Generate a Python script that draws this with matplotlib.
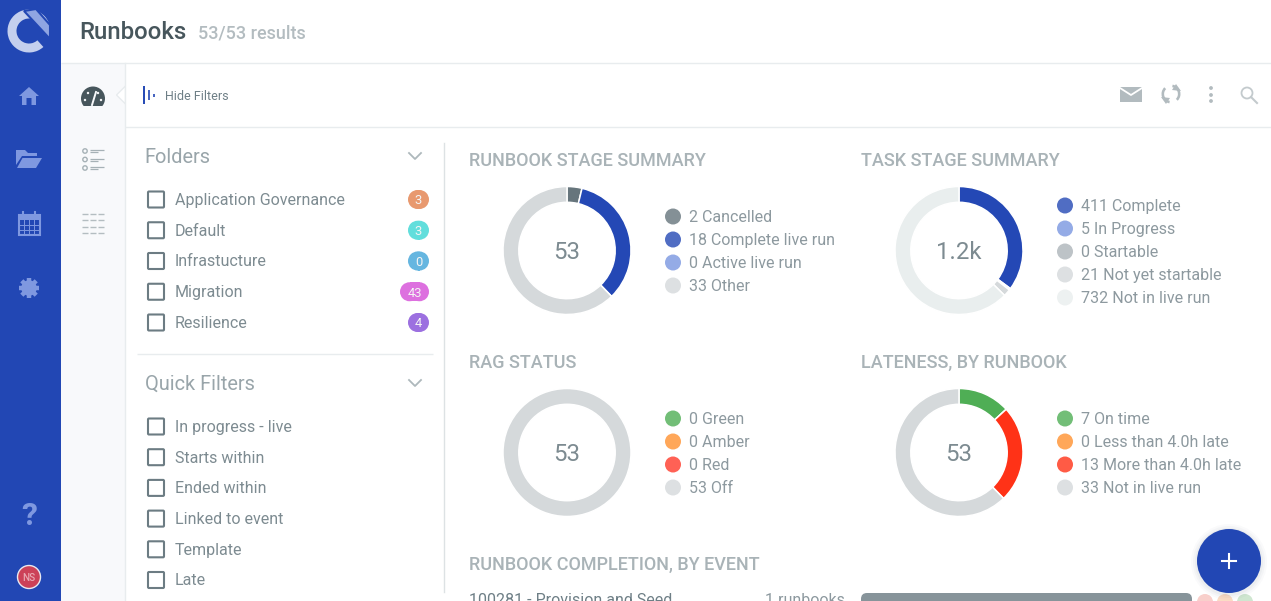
import matplotlib
matplotlib.use('Agg')
import matplotlib.pyplot as plt
from matplotlib.patches import Rectangle, Circle, Polygon, Wedge, FancyBboxPatch

plt.rcParams['font.family'] = ['Roboto', 'DejaVu Sans']

W, H = 1271, 601

folder_names = ['Application Governance', 'Default', 'Infrastucture', 'Migration', 'Resilience']
folder_counts = [3, 3, 0, 43, 4]
folder_colors = ['#E8996F', '#62DEDC', '#66B6E0', '#DD70DF', '#9C70E0']
quick_filters = ['In progress - live', 'Starts within', 'Ended within', 'Linked to event', 'Template', 'Late']

stage_labels = ['Cancelled', 'Complete live run', 'Active live run', 'Other']
stage_values = [2, 18, 0, 33]
stage_colors = ['#66757C', '#2448B5', '#7A96E0', '#D5D9DB']

task_labels = ['Complete', 'In Progress', 'Startable', 'Not yet startable', 'Not in live run']
task_values = [411, 5, 0, 21, 732]
task_colors = ['#2448B5', '#7A96E0', '#ADB4B9', '#D5D9DB', '#E9EEEE']

rag_labels = ['Green', 'Amber', 'Red', 'Off']
rag_values = [0, 0, 0, 53]
rag_colors = ['#4FAE55', '#FF9130', '#FF3A2A', '#D5D9DB']

late_labels = ['On time', 'Less than 4.0h late', 'More than 4.0h late', 'Not in live run']
late_values = [7, 0, 13, 33]
late_colors = ['#4FAE55', '#FF9130', '#FF3217', '#D5D9DB']

BLUE = '#2247B4'
ICON = '#7F98E0'
TXT = '#8D999F'
HEAD = '#A9B3B7'

fig = plt.figure(figsize=(W / 100, H / 100), dpi=100, facecolor='white')
ax = fig.add_axes([0, 0, 1, 1])
ax.set_xlim(0, W)
ax.set_ylim(H, 0)
ax.axis('off')


def txt(x, y, s, size=16, color=TXT, weight='normal', ha='left'):
    # size is in css pixels
    ax.text(x, y - 0.6, s, fontsize=size * 0.72, color=color, fontweight=weight, ha=ha, va='center_baseline')


def hline(x0, x1, y, color='#E8ECEE'):
    ax.plot([x0, x1], [y, y], color=color, lw=1, solid_capstyle='butt')


def chevron(x, y):
    ax.plot([x - 6, x, x + 6], [y - 3, y + 3, y - 3], color='#AEB8BC', lw=1.3)


# side rails and dividers
ax.add_patch(Rectangle((0, 0), 61, H, fc=BLUE, ec='none'))
ax.add_patch(Rectangle((61, 63), 64, H, fc='#F8F9FB', ec='none'))
ax.plot([125, 125], [63, H], color='#E8ECEE', lw=1)
hline(61, W, 62.8)
hline(125, W, 126.8)
ax.plot([444, 444], [143, 592], color='#DDE2E4', lw=1)
hline(137, 433, 354)
ax.add_patch(Polygon([[125.5, 86], [116.5, 95], [125.5, 104]], fc='white', ec='#E8ECEE', lw=1))
ax.add_patch(Rectangle((125.5, 85), 2, 20, fc='white', ec='none'))

# logo
ax.add_patch(Wedge((29, 31), 21.5, 48, 335, width=9, fc='#C4CFEE', ec='none'))
ax.add_patch(Polygon([[24, 11], [36, 9], [50, 25], [50, 39]], fc='#8FA5E2', ec=BLUE, lw=1.5))

# rail icons
ax.add_patch(Polygon([[19, 96], [29, 87], [39, 96], [36, 96], [36, 105], [31.5, 105], [31.5, 98],
                      [26.5, 98], [26.5, 105], [22, 105], [22, 96]], fc=ICON, ec='none'))
ax.add_patch(Polygon([[16, 165], [16, 150], [25, 150], [28, 153], [37, 153], [37, 156], [22, 156]], fc=ICON, ec='none'))
ax.add_patch(Polygon([[22.5, 158], [42, 158], [36, 168], [17, 168]], fc=ICON, ec='none'))
ax.add_patch(Rectangle((18.5, 215), 21, 20, fc='none', ec=ICON, lw=1.5))
ax.add_patch(Rectangle((18.5, 215), 21, 4.5, fc=ICON, ec='none'))
for gx in [23.7, 29, 34.3]:
    ax.plot([gx, gx], [220, 235], color=ICON, lw=0.7)
for gy in [225, 230]:
    ax.plot([18.5, 39.5], [gy, gy], color=ICON, lw=0.7)
ax.plot([23, 23], [212, 217], color=ICON, lw=1.5)
ax.plot([35, 35], [212, 217], color=ICON, lw=1.5)
# gear teeth are short thick spokes
for dx, dy in [(10, 0), (0, 10), (7.2, 7.2), (7.2, -7.2)]:
    ax.plot([29 - dx, 29 + dx], [288 - dy, 288 + dy], color=ICON, lw=3.2, solid_capstyle='butt')
ax.add_patch(Circle((29, 288), 7.8, fc=ICON, ec='none'))
ax.add_patch(Circle((29, 288), 3.2, fc=BLUE, ec='none'))
txt(29, 514, '?', 32, ICON, 'bold', 'center')
ax.add_patch(Circle((29, 577), 11.5, fc='#CC4158', ec='#E8E8F0', lw=1))
txt(29, 577.5, 'NS', 10, '#E9A8B2', 500, 'center')

# second rail icons
ax.add_patch(Circle((93, 98.5), 12, fc='#47565C', ec='none'))
ax.add_patch(Rectangle((80, 106), 26, 6, fc='#F8F9FB', ec='none'))
ax.plot([92, 96], [105, 92], color='#F8F9FB', lw=1.4)
for dx, dy in [(85, 100), (88, 93), (101, 100), (98, 93)]:
    ax.add_patch(Circle((dx, dy), 1.2, fc='#F8F9FB', ec='none'))
for ly in [151, 159.5, 168]:
    ax.add_patch(Circle((85, ly), 2.2, fc='none', ec='#A6B1B6', lw=1))
    ax.plot([90, 104], [ly - 1, ly - 1], color='#A6B1B6', lw=0.9, solid_capstyle='butt')
    ax.plot([90, 98], [ly + 1, ly + 1], color='#A6B1B6', lw=0.9, solid_capstyle='butt')
for ly in [213.5, 220, 226.5, 233]:
    for lx in [82, 90, 98]:
        ax.plot([lx, lx + 6], [ly, ly], color='#B4BDC1', lw=1, solid_capstyle='butt')

# header
txt(79, 30.5, 'Runbooks', 24, '#47565C', 500)
txt(198.5, 32.5, '53/53 results', 18, '#B3BCC0', 500)

# filter bar
ax.plot([144, 144], [86, 104], color=BLUE, lw=1.4, solid_capstyle='butt')
ax.plot([149, 149], [90, 100], color=BLUE, lw=1.2, solid_capstyle='butt')
ax.plot([154, 154], [93.5, 96.5], color=BLUE, lw=1.2, solid_capstyle='butt')
txt(165, 96, 'Hide Filters', 12.5, '#6E7F86')

# toolbar icons
ax.add_patch(Rectangle((1120, 87), 22, 15, fc='#B2BBBF', ec='none'))
ax.plot([1120, 1131, 1142], [88, 95, 88], color='white', lw=1.3)
ax.add_patch(Wedge((1171, 94), 9.5, 100, 225, width=2.6, fc='#B2BBBF', ec='none'))
ax.add_patch(Wedge((1171, 94), 9.5, 280, 45, width=2.6, fc='#B2BBBF', ec='none'))
ax.add_patch(Polygon([[1161, 97], [1170, 98], [1166, 104]], fc='#B2BBBF', ec='none'))
ax.add_patch(Polygon([[1181, 91], [1172, 90], [1176, 84]], fc='#B2BBBF', ec='none'))
for dy in [88, 95, 101]:
    ax.add_patch(Circle((1211, dy), 1.9, fc='#B2BBBF', ec='none'))
ax.add_patch(Circle((1247, 93), 5.5, fc='none', ec='#C3CACD', lw=1.3))
ax.plot([1251, 1257], [97, 103], color='#C3CACD', lw=1.5)


def check_rows(names, y0, step):
    for i, name in enumerate(names):
        y = y0 + i * step
        ax.add_patch(FancyBboxPatch((148, y - 8), 16, 16, boxstyle='round,pad=0,rounding_size=1',
                                    fc='white', ec='#6C7C83', lw=1.5))
        txt(175, y, name, 16, '#7D8B91')


# filter panels
txt(144.6, 156, 'Folders', 20, '#99A5AA')
chevron(415, 156)
check_rows(folder_names, 199.5, 30.75)
for i, n in enumerate(folder_counts):
    y = 199.5 + i * 30.75
    x0 = 400 if n > 9 else 408
    ax.add_patch(Rectangle((x0 + 9.5, y - 9.5), 429 - x0 - 19, 19, fc=folder_colors[i], ec='none'))
    ax.add_patch(Circle((x0 + 9.5, y), 9.5, fc=folder_colors[i], ec='none'))
    ax.add_patch(Circle((419.5, y), 9.5, fc=folder_colors[i], ec='none'))
    txt((x0 + 429) / 2, y + 0.5, str(n), 13, '#F4F4F4', 'normal', 'center')

txt(144.6, 383, 'Quick Filters', 20, '#99A5AA')
chevron(415, 383)
check_rows(quick_filters, 426.5, 30.7)


def donut(cx, cy, title, tx, ty, labels, values, colors, center, leg_y):
    txt(tx, ty, title, 18, HEAD, 500)
    r = 64
    pie_ax = fig.add_axes([(cx - r) / W, 1 - (cy + r) / H, 2 * r / W, 2 * r / H])
    pie_ax.pie(values, colors=colors, startangle=90, counterclock=False, radius=1,
               wedgeprops=dict(width=15.8 / r, edgecolor='white', linewidth=1.1))
    pie_ax.set_xlim(-1, 1)
    pie_ax.set_ylim(-1, 1)
    txt(cx, cy, center, 24, '#7D8B91', 'normal', 'center')
    for i, (lab, val) in enumerate(zip(labels, values)):
        y = leg_y + i * 23
        ax.add_patch(Circle((cx + 106, y), 8, fc=colors[i], ec='none', alpha=0.8))
        txt(cx + 122, y + 0.3, f'{val} {lab}', 16, TXT)


donut(567, 250.5, 'RUNBOOK STAGE SUMMARY', 469, 160, stage_labels, stage_values, stage_colors, '53', 216.5)
donut(959, 250.5, 'TASK STAGE SUMMARY', 861, 160, task_labels, task_values, task_colors, '1.2k', 205.5)
donut(567, 452.5, 'RAG STATUS', 469, 362, rag_labels, rag_values, rag_colors, '53', 418.5)
donut(959, 452.5, 'LATENESS, BY RUNBOOK', 861, 362, late_labels, late_values, late_colors, '53', 418.5)

# completion section, cut off by the window
txt(469, 564, 'RUNBOOK COMPLETION, BY EVENT', 18, HEAD, 500)
txt(469, 600, '100281 - Provision and Seed', 16, '#6E7F86')
txt(845, 600, '1 runbooks', 16, '#8D999F', 'normal', 'right')
ax.add_patch(FancyBboxPatch((861, 593), 331, 20, boxstyle='round,pad=0,rounding_size=6',
                            fc='#87949A', ec='none'))
for bx, bc in [(1205, '#F8CFCB'), (1225, '#FBDCC4'), (1245, '#CFE6D0')]:
    ax.add_patch(Circle((bx, 602), 8, fc=bc, ec='none'))

# floating add button, soft shadow first
top = fig.add_axes([0, 0, 1, 1], facecolor='none')
top.set_xlim(0, W)
top.set_ylim(H, 0)
top.axis('off')
for rad, a in [(38, 0.03), (36, 0.04), (34, 0.05)]:
    top.add_patch(Circle((1229, 562), rad, fc='#607080', ec='none', alpha=a))
top.add_patch(Circle((1229, 561), 32, fc=BLUE, ec='none'))
top.plot([1222, 1236], [561, 561], color='white', lw=1.5)
top.plot([1229, 1229], [554, 568], color='white', lw=1.5)

fig.savefig('out.png', dpi=100, facecolor='white')
